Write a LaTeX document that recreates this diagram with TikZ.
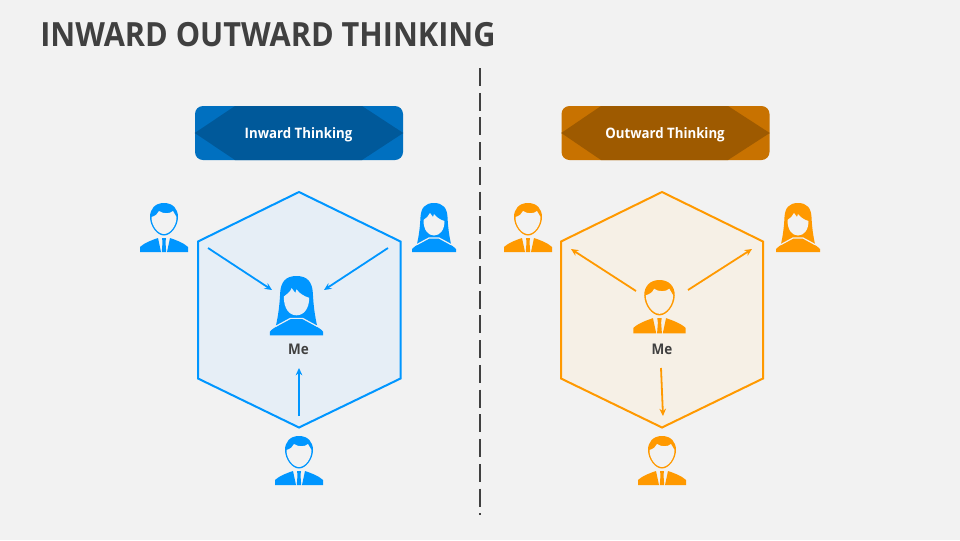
\documentclass[tikz,border=0pt]{standalone}
\usepackage{fontspec}
\setmainfont[FakeStretch=0.92]{Open Sans}
\usetikzlibrary{arrows.meta}
\definecolor{pagebg}{HTML}{F2F2F2}
\definecolor{ink}{HTML}{404040}
\definecolor{inblue}{HTML}{0096FF}
\definecolor{inpale}{HTML}{E6EEF6}
\definecolor{inbox}{HTML}{0070C0}
\definecolor{inboxdark}{HTML}{00599A}
\definecolor{outorange}{HTML}{FF9900}
\definecolor{outpale}{HTML}{F6F0E6}
\definecolor{outbox}{HTML}{C87200}
\definecolor{outboxdark}{HTML}{9E5A00}
\tikzset{
    pics/man/.style n args={2}{code={
        \fill [#1] (0,0) .. controls (-9,0) and (-14,6) .. (-14,14)
            .. controls (-14,23) and (-7,32.5) .. (0,32.5)
            .. controls (7,32.5) and (14,23) .. (14,14)
            .. controls (14,6) and (9,0) .. (0,0) -- cycle;
        \fill [#2] (-12.5,14) .. controls (-9,13) and (-6,11) .. (-5,8)
            .. controls (-1,11) and (6,11) .. (9,8)
            .. controls (10,10) and (11.5,12) .. (12.5,14)
            .. controls (12.5,23) and (6,31) .. (0,31)
            .. controls (-6,31) and (-12.5,23) .. (-12.5,14) -- cycle;
        \fill [#1] (-24,49) -- (-24,44) .. controls (-20,40) and (-12,37) .. (-6,35) -- (-3,49) -- cycle;
        \fill [#1] (24,49) -- (24,44) .. controls (20,40) and (12,37) .. (6,35) -- (3,49) -- cycle;
        \fill [#1] (-2,35) -- (2,35) -- (1.5,39) -- (2.2,49) -- (-2.2,49) -- (-1.5,39) -- cycle;
    }},
    pics/woman/.style n args={2}{code={
        \fill [#1] (0,0) .. controls (-9,0) and (-13,5) .. (-13.5,14)
            .. controls (-14,24) and (-15,32) .. (-17,41) -- (17,41)
            .. controls (15,32) and (14,24) .. (13.5,14)
            .. controls (13,5) and (9,0) .. (0,0) -- cycle;
        \fill [#2] (-10.5,17) .. controls (-8,15) and (-5,13) .. (-4,10)
            -- (-1,14) -- (0,11)
            .. controls (3,15) and (7,17) .. (10.5,18)
            .. controls (10.5,27) and (6,32.5) .. (0,32.5)
            .. controls (-6,32.5) and (-10.5,27) .. (-10.5,17) -- cycle;
        \fill [#1] (-22,49) -- (-22,46) .. controls (-19,42) and (-10,39) .. (-5,36)
            -- (5,36) .. controls (10,39) and (19,42) .. (22,46) -- (22,49) -- cycle;
        \draw [#2, line width=0.9pt] (-17,41.5) -- (-5,35) -- (5,35) -- (17,41.5);
    }},
    banner/.style={rounded corners=6pt, minimum width=156pt, minimum height=40.5pt, inner sep=0pt},
    bannertext/.style={text=white, font=\bfseries\fontsize{10.8}{12}\selectfont},
    melabel/.style={text=ink, font=\bfseries\fontsize{11}{12}\selectfont},
    hexa/.style={line width=1.5pt, line join=miter},
    pointer/.style={line width=1.35pt, -{Stealth[length=5.5pt, width=5pt]}}
}
\begin{document}
\begin{tikzpicture}[x=0.75pt, y=-0.75pt]
    \fill [pagebg] (0,0) rectangle (960,540);
    \node [anchor=west, inner sep=0pt, text=ink, font=\bfseries\fontsize{25}{30}\selectfont] (title) at (40,35) {INWARD OUTWARD THINKING};

    \coordinate (dashtop) at (480,68);
    \coordinate (dashend) at (480,515);
    \draw [ink, line width=1.5pt, dash pattern=on 13.5pt off 5.06pt] (dashtop) -- (dashend);

    \node [banner, fill=inbox] (inwardbox) at (299,133) {};
    \fill [inboxdark] (inwardbox.west) -- (235,106) -- (362,106) -- (inwardbox.east) -- (362,160) -- (235,160) -- cycle;
    \node [bannertext] (inwardlabel) at (298.5,134.5) {Inward Thinking};

    \node [banner, fill=outbox] (outwardbox) at (665.5,133) {};
    \fill [outboxdark] (outwardbox.west) -- (601,106) -- (728,106) -- (outwardbox.east) -- (728,160) -- (601,160) -- cycle;
    \node [bannertext] (outwardlabel) at (665,134.5) {Outward Thinking};

    \draw [hexa, inblue, fill=inpale] (299,192) -- (400.5,241.5) -- (400.5,378.5) -- (299,427.5) -- (198,378.5) -- (198,241.5) -- cycle;
    \draw [hexa, outorange, fill=outpale] (662,192) -- (763,241.5) -- (763,378.5) -- (662,427.5) -- (561,378.5) -- (561,241.5) -- cycle;

    \pic (manleft) at (164,203) {man={inblue}{pagebg}};
    \pic (womanleft) at (434,203) {woman={inblue}{pagebg}};
    \pic (manbottom) at (299,436) {man={inblue}{pagebg}};
    \pic [scale=1.21] (meleft) at (296.5,276) {woman={inblue}{inpale}};
    \node [melabel] (meleftlabel) at (298.5,349.5) {Me};

    \pic (manright) at (528,203) {man={outorange}{pagebg}};
    \pic (womanright) at (798,203) {woman={outorange}{pagebg}};
    \pic (manlow) at (662,436) {man={outorange}{pagebg}};
    \pic [scale=1.09] (meright) at (659.5,280) {man={outorange}{outpale}};
    \node [melabel] (merightlabel) at (662,349.5) {Me};

    \coordinate (ina) at (208,248);
    \coordinate (inb) at (272,290);
    \coordinate (inc) at (388,248);
    \coordinate (ind) at (324,290);
    \coordinate (ine) at (299,416);
    \coordinate (inf) at (299,368);
    \draw [pointer, inblue] (ina) -- (inb);
    \draw [pointer, inblue] (inc) -- (ind);
    \draw [pointer, inblue] (ine) -- (inf);

    \coordinate (outa) at (636,291);
    \coordinate (outb) at (571,249);
    \coordinate (outc) at (688,290);
    \coordinate (outd) at (752,249);
    \coordinate (oute) at (661,368);
    \coordinate (outf) at (663,416);
    \draw [pointer, outorange] (outa) -- (outb);
    \draw [pointer, outorange] (outc) -- (outd);
    \draw [pointer, outorange] (oute) -- (outf);
\end{tikzpicture}
\end{document}
